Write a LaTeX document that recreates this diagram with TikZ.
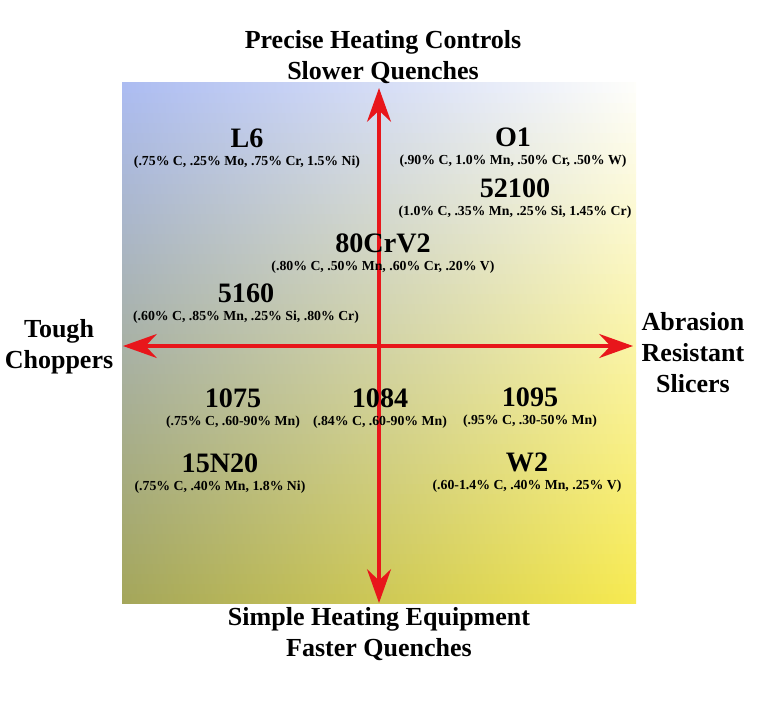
\documentclass[tikz,border=0pt]{standalone}
\usepackage{fontspec}
\setmainfont{Liberation Serif}
\usetikzlibrary{arrows.meta,positioning}
\definecolor{tlcol}{RGB}{172,188,242}
\definecolor{trcol}{RGB}{254,254,252}
\definecolor{blcol}{RGB}{164,166,90}
\definecolor{brcol}{RGB}{247,234,80}
\definecolor{axred}{RGB}{232,22,27}
\tikzset{
  steel/.style={inner sep=1pt,font=\fontsize{20}{22}\selectfont\bfseries},
  chem/.style={inner sep=1pt,font=\fontsize{9.8}{11}\selectfont\bfseries},
  axlbl/.style={align=center,inner sep=1pt,font=\fontsize{18.5}{22}\selectfont\bfseries},
  axarr/.style={draw=axred,line width=2.9pt,
    {Stealth[length=24pt,width=17pt,inset=8pt]}-{Stealth[length=24pt,width=17pt,inset=8pt]}},
}
\begin{document}
\begin{tikzpicture}[x=0.025cm,y=0.025cm]
  \useasboundingbox (0,0) rectangle (768,700);
  % background square
  \begin{scope}
    \clip (122,97) rectangle (636,617);
    \foreach \i in {0,...,51}{
      \pgfmathsetmacro\p{(\i+0.5)/52*100}
      \shade[left color=tlcol!\p!blcol,right color=trcol!\p!brcol]
        (122,{97+\i*10}) rectangle (636,{107.4+\i*10});
    }
  \end{scope}
  % axes
  \coordinate (top) at (379,612);
  \coordinate (bot) at (379,97);
  \coordinate (lft) at (123,354);
  \coordinate (rgt) at (633,354);
  \draw[axarr] (lft) -- (rgt);
  \draw[axarr] (bot) -- (top);
  % axis labels
  \node[axlbl] (slow) at (383,643) {Precise Heating Controls\\Slower Quenches};
  \node[axlbl] (fast) at (379,66) {Simple Heating Equipment\\Faster Quenches};
  \node[axlbl] (tough) at (59,353) {Tough\\Choppers};
  \node[axlbl] (abras) at (693,347) {Abrasion\\Resistant\\Slicers};
  % steels
  \node[steel] (l6) at (247,562) {L6};
  \node[chem,below=3.5pt of l6] (l6c) {(.75\% C, .25\% Mo, .75\% Cr, 1.5\% Ni)};
  \node[steel] (o1) at (513,563) {O1};
  \node[chem,below=3.5pt of o1] (o1c) {(.90\% C, 1.0\% Mn, .50\% Cr, .50\% W)};
  \node[steel] (s52100) at (515,512) {52100};
  \node[chem,below=3.5pt of s52100] (s52100c) {(1.0\% C, .35\% Mn, .25\% Si, 1.45\% Cr)};
  \node[steel] (crv) at (383,457) {80CrV2};
  \node[chem,below=3.5pt of crv] (crvc) {(.80\% C, .50\% Mn, .60\% Cr, .20\% V)};
  \node[steel] (s5160) at (246,407) {5160};
  \node[chem,below=3.5pt of s5160] (s5160c) {(.60\% C, .85\% Mn, .25\% Si, .80\% Cr)};
  \node[steel] (s1075) at (233,302) {1075};
  \node[chem,below=3.5pt of s1075] (s1075c) {(.75\% C, .60-90\% Mn)};
  \node[steel] (s1084) at (380,302) {1084};
  \node[chem,below=3.5pt of s1084] (s1084c) {(.84\% C, .60-90\% Mn)};
  \node[steel] (s1095) at (530,303) {1095};
  \node[chem,below=3.5pt of s1095] (s1095c) {(.95\% C, .30-50\% Mn)};
  \node[steel] (n20) at (220,237) {15N20};
  \node[chem,below=3.5pt of n20] (n20c) {(.75\% C, .40\% Mn, 1.8\% Ni)};
  \node[steel] (w2) at (527,238) {W2};
  \node[chem,below=3.5pt of w2] (w2c) {(.60-1.4\% C, .40\% Mn, .25\% V)};
\end{tikzpicture}
\end{document}
